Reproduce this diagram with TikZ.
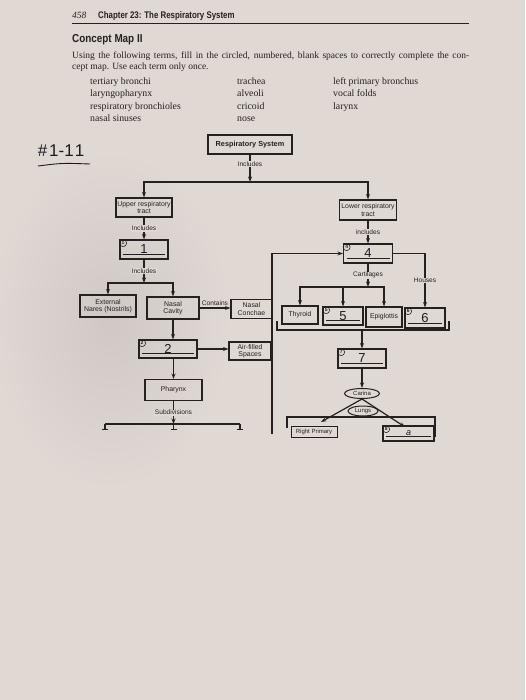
\documentclass[tikz,border=0pt]{standalone}
\usepackage{fontspec}
\setmainfont{Liberation Serif}
\setsansfont{Liberation Sans}
\newfontfamily\handfont{Liberation Sans}
\usetikzlibrary{positioning,arrows.meta,shapes.geometric}
\definecolor{paper}{RGB}{224,216,211}
\definecolor{shadow}{RGB}{208,200,196}
\definecolor{ink}{RGB}{38,32,32}
\definecolor{pen}{RGB}{28,26,34}

\begin{document}
\begin{tikzpicture}[x=1pt, y=-1pt, >={Stealth[length=5.5pt,width=4pt]},
		box/.style={draw=ink, line width=1.1pt, align=center, inner sep=1pt, text=ink, font=\sffamily\fontsize{6.9}{7.2}\selectfont},
		blank/.style={box, font=\handfont\fontsize{13}{13}\selectfont, text=pen, path picture={\draw[ink, line width=0.7pt] ([xshift=3pt,yshift=4.5pt]path picture bounding box.south west) -- ([xshift=-3pt,yshift=4.5pt]path picture bounding box.south east);}},
		num/.style={circle, draw=ink, line width=0.6pt, inner sep=0.3pt, minimum size=7pt, text=ink, font=\sffamily\bfseries\fontsize{5}{5}\selectfont},
		lbl/.style={fill=paper, inner sep=0.6pt, text=ink, font=\sffamily\fontsize{6.6}{6.6}\selectfont},
		oval/.style={ellipse, draw=ink, line width=1pt, inner sep=0pt, text=ink, font=\sffamily\fontsize{6}{6}\selectfont},
		term/.style={anchor=base west, inner sep=0pt, text=ink, font=\fontsize{9.8}{10}\selectfont},
		con/.style={draw=ink, line width=1.2pt}]
		\useasboundingbox (0,0) rectangle (525,700);
		\fill[paper] (0,0) rectangle (525,700);
		\shade[inner color=shadow, outer color=paper] (110,320) ellipse (120 and 170);

		% page head
		\node[anchor=base west, inner sep=0pt, text=ink, font=\itshape\fontsize{9.5}{9.5}\selectfont] (page) at (72,19) {458};
		\node[anchor=base west, inner sep=0pt, text=ink, font=\sffamily\bfseries\fontsize{9.6}{10}\selectfont] (chapter) at (98,19) {\scalebox{.82}[1]{Chapter 23: The Respiratory System}};
		\draw[ink, line width=0.6pt] (72,23.5) -- (469,23.5);
		\node[anchor=base west, inner sep=0pt, text=ink, font=\sffamily\bfseries\fontsize{11.5}{12}\selectfont] (title) at (72,43) {\scalebox{.86}[1]{Concept Map II}};
		\node[term, font=\fontsize{9.5}{10}\selectfont] (intro1) at (72,59) {\makebox[397pt][s]{Using the following terms, fill in the circled, numbered, blank spaces to correctly complete the con-}};
		\node[term, font=\fontsize{9.5}{10}\selectfont] (intro2) at (72,69.5) {cept map. Use each term only once.};

		\node[term] (t1) at (90,84.5) {tertiary bronchi};
		\node[term] (t2) at (90,97) {laryngopharynx};
		\node[term] (t3) at (90,109.5) {respiratory bronchioles};
		\node[term] (t4) at (90,122) {nasal sinuses};
		\node[term] (t5) at (237,84.5) {trachea};
		\node[term] (t6) at (237,97) {alveoli};
		\node[term] (t7) at (237,109.5) {cricoid};
		\node[term] (t8) at (237,122) {nose};
		\node[term] (t9) at (333,84.5) {left primary bronchus};
		\node[term] (t10) at (333,97) {vocal folds};
		\node[term] (t11) at (333,109.5) {larynx};

		\node[text=pen, inner sep=0pt, font=\handfont\fontsize{17}{17}\selectfont] (hw) at (61,151) {\#\hspace{2pt}1-1\hspace{1pt}1};
		\draw[pen, line width=0.9pt] (38,166) .. controls (62,163) .. (90,164);

		% map
		\node[box, line width=1.8pt, font=\sffamily\bfseries\fontsize{7.3}{8}\selectfont, minimum width=84pt, minimum height=19pt] (sys) at (250,144.5) {Respiratory System};
		\coordinate (split) at (250,182);
		\node[box, minimum width=56pt, minimum height=19pt] (upper) at (144,207.5) {Upper respiratory\\tract};
		\node[box, minimum width=57pt, minimum height=20pt] (lower) at (368,210) {Lower respiratory\\tract};
		\draw[con, ->] (sys) -- node[lbl, pos=0.35] {Includes} (split);
		\draw[con, ->] (split) -| (upper);
		\draw[con, ->] (split) -| (lower);

		\node[blank, minimum width=48pt, minimum height=19pt] (b1) at (144,249.5) {1};
		\node[num, below right=1pt and 1pt of b1.north west] (n1) {1};
		\path[con, ->] (upper) edge node[lbl] {Includes} (b1);
		\coordinate (nose) at (144,283);
		\draw[con, ->] (b1) -- node[lbl] {Includes} (nose);
		\node[box, minimum width=56pt, minimum height=22pt] (nares) at (108,306) {External\\Nares (Nostrils)};
		\node[box, minimum width=52pt, minimum height=22pt] (cavity) at (173,308) {Nasal\\Cavity};
		\draw[con, ->] (nose) -| (nares);
		\draw[con, ->] (nose) -| (cavity);
		\node[box, minimum width=41pt, minimum height=19pt] (conchae) at (251.5,309) {Nasal\\Conchae};
		\draw[con, ->] (cavity) -- node[lbl, above=1pt, fill=none] {Contains} (cavity -| conchae.west);

		\node[blank, minimum width=58pt, minimum height=18pt] (b2) at (168,349) {2};
		\node[num, below right=1pt and 1pt of b2.north west] (n2) {2};
		\draw[con, ->] (cavity) -- (cavity |- b2.north);
		\node[box, minimum width=42pt, minimum height=18pt] (air) at (250,351) {Air-filled\\Spaces};
		\draw[con, ->] (b2) -- (b2 -| air.west);
		\node[box, minimum width=57pt, minimum height=21pt] (pharynx) at (173.5,390) {Pharynx};
		\draw[con, ->] (b2.south -| pharynx) -- (pharynx);
		\coordinate (subl) at (105,424);
		\coordinate (subr) at (240,424);
		\draw[con] (subl) -- (subr);
		\draw[con, ->] (pharynx) -- node[lbl] {Subdivisions} (pharynx |- subl);
		\draw[con, -{Bar[width=6pt]}] (subl) -- ++(0,6);
		\draw[con, -{Bar[width=6pt]}] (pharynx |- subl) -- ++(0,6);
		\draw[con, -{Bar[width=6pt]}] (subr) -- ++(0,6);

		\node[blank, minimum width=49pt, minimum height=19pt] (b4) at (368,253.5) {4};
		\node[num, below right=1pt and 1pt of b4.north west] (n4) {4};
		\path[con, ->] (lower) edge node[lbl] {includes} (b4);
		\coordinate (feed) at (272,434);
		\draw[con, ->] (feed) |- (b4);
		\node[blank, minimum width=40pt, minimum height=20pt] (b6) at (425,318) {6};
		\node[num, below right=1pt and 1pt of b6.north west] (n6) {6};
		\draw[con, ->] (b4) -| node[lbl, pos=0.75] {Houses} (b6);
		\coordinate (cart) at (368,287);
		\draw[con, ->] (b4) -- node[lbl] {Cartilages} (cart);
		\node[box, minimum width=36pt, minimum height=18pt] (thyroid) at (300,315) {Thyroid};
		\node[blank, minimum width=40pt, minimum height=18pt] (b5) at (343,316) {5};
		\node[num, below right=1pt and 1pt of b5.north west] (n5) {5};
		\node[box, minimum width=36pt, minimum height=20pt] (epi) at (384,317) {Epiglottis};
		\draw[con] (thyroid |- cart) -- (epi |- cart);
		\draw[con, ->] (cart) -| (thyroid);
		\draw[con, ->] (cart) -| (epi);
		\draw[con, ->] (b5 |- cart) -- (b5);

		\coordinate (rowl) at (277,330);
		\coordinate (rowr) at (449,330);
		\draw[con] ([yshift=9pt]rowl) -- (rowl) -- (rowr) -- ([yshift=9pt]rowr);
		\node[blank, minimum width=48pt, minimum height=19pt] (b7) at (362,358.5) {7};
		\node[num, below right=1pt and 1pt of b7.north west] (n7) {7};
		\draw[con, ->] (b7 |- rowl) -- (b7);
		\node[oval, minimum width=35pt, minimum height=10pt] (carina) at (362,393.5) {Carina};
		\draw[con, ->] (b7) -- (carina);
		\node[oval, minimum width=30pt, minimum height=10pt] (lungs) at (363,411) {Lungs};
		\coordinate (rp) at (321,422);
		\coordinate (lp) at (405,427);
		\draw[con, ->] (carina.south) -- (rp);
		\draw[con, ->] (carina.south) -- (lp);
		\coordinate (brl) at (287,417);
		\coordinate (brr) at (435,417);
		\draw[con, line width=1.4pt] ([yshift=-11pt]brl) -- (brl) -- (brr) -- ([yshift=-20pt]brr);
		\node[box, line width=0.7pt, minimum width=46pt, minimum height=11pt, font=\sffamily\fontsize{6}{6}\selectfont] (rprim) at (314,431.5) {Right Primary};
		\node[blank, minimum width=51pt, minimum height=15pt, font=\handfont\itshape\fontsize{9}{9}\selectfont] (b8) at (408.5,433.5) {a};
		\node[num, below right=1pt and 1pt of b8.north west] (n8) {8};
	\end{tikzpicture}
\end{document}
